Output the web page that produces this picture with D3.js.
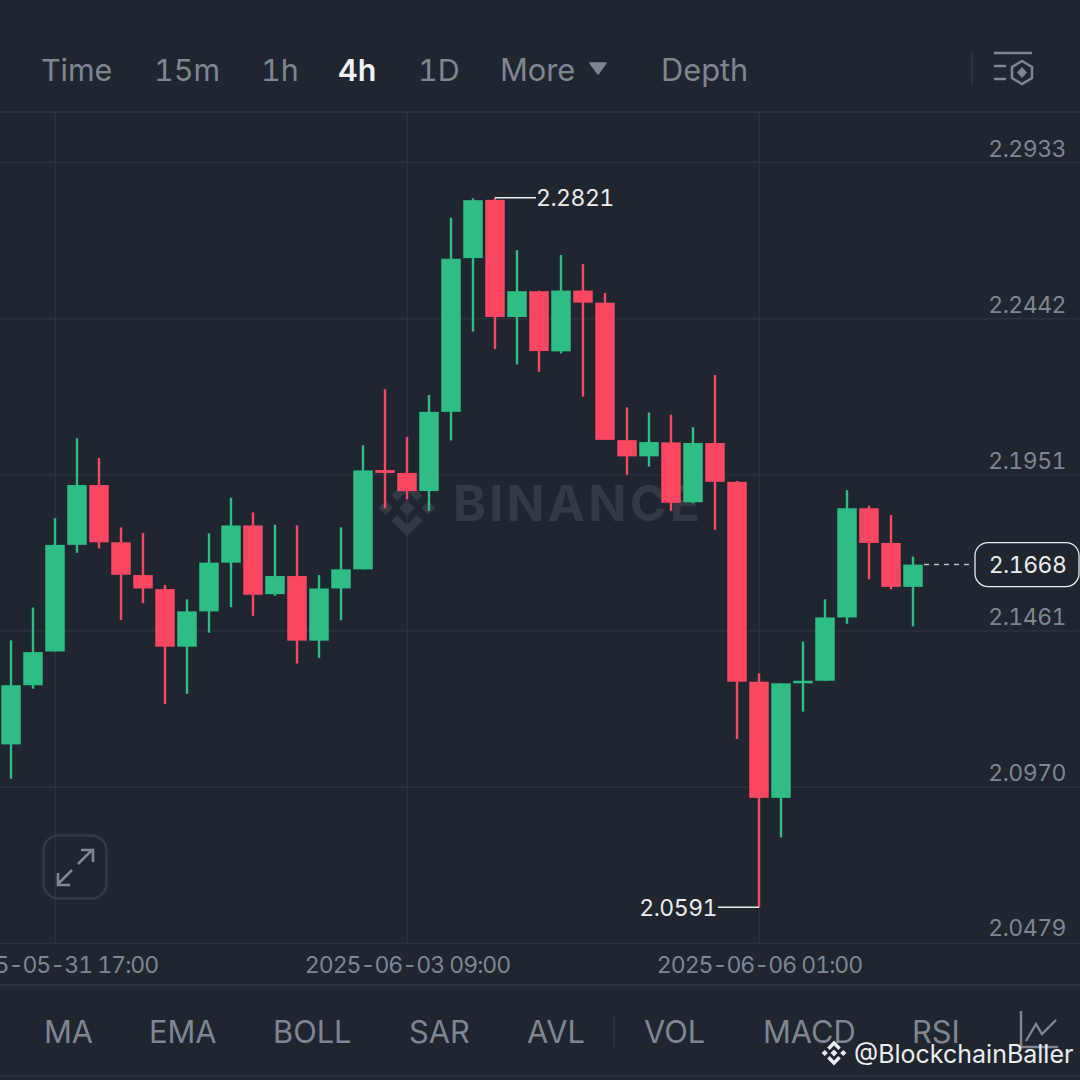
<!DOCTYPE html>
<html><head><meta charset="utf-8">
<script src="https://cdn.jsdelivr.net/npm/d3@7"></script>
<style>
html,body{margin:0;padding:0;background:#1f2630;}
svg{display:block;font-family:"Inter","Roboto",sans-serif;font-variant-numeric:tabular-nums;font-feature-settings:"tnum" 1;}
</style></head><body>
<svg id="c" width="1080" height="1080"></svg>
<script>
const firstCandle = "2025-05-31T09:00:00Z";
const opens  = [2.1103,2.1289,2.1395,2.1730,2.1918,2.1738,2.1635,2.1591,2.1410,2.1521,2.1674,2.1791,2.1575,2.1632,2.1429,2.1593,2.1653,2.1965,2.1956,2.1899,2.2148,2.2631,2.2814,2.2446,2.2527,2.2338,2.2529,2.2491,2.2059,2.2008,2.2052,2.1864,2.2050,2.1928,2.1300,2.0935,2.1295,2.1303,2.1502,2.1845,2.1736,2.1598];
const closes = [2.1289,2.1393,2.1730,2.1918,2.1738,2.1636,2.1593,2.1410,2.1521,2.1674,2.1791,2.1573,2.1632,2.1429,2.1593,2.1653,2.1964,2.1956,2.1899,2.2148,2.2629,2.2813,2.2446,2.2527,2.2339,2.2529,2.2491,2.2060,2.2008,2.2053,2.1862,2.2050,2.1928,2.1300,2.0935,2.1295,2.1303,2.1502,2.1845,2.1736,2.1598,2.1668];
const highs  = [2.1430,2.1533,2.1814,2.2065,2.2003,2.1785,2.1767,2.1604,2.1559,2.1766,2.1878,2.1832,2.1793,2.1791,2.1635,2.1785,2.2043,2.2219,2.2069,2.2201,2.2758,2.2819,2.2821,2.2656,2.2529,2.2641,2.2612,2.2521,2.2162,2.2146,2.2139,2.2100,2.2264,2.1931,2.1326,2.1295,2.1426,2.1559,2.1902,2.1853,2.1824,2.1693];
const lows   = [2.0995,2.1278,2.1395,2.1705,2.1719,2.1494,2.1547,2.1230,2.1262,2.1454,2.1534,2.1507,2.1570,2.1357,2.1375,2.1493,2.1653,2.1845,2.1873,2.1837,2.2058,2.2400,2.2345,2.2297,2.2274,2.2332,2.2196,2.2060,2.1950,2.1976,2.1837,2.1861,2.1777,2.1120,2.0591,2.0811,2.1206,2.1303,2.1482,2.1622,2.1590,2.1474];
const priceTicks = [2.2933,2.2442,2.1951,2.1461,2.0970,2.0479];
const timeTicks = ["2025-05-31T17:00:00Z","2025-06-03T09:00:00Z","2025-06-06T01:00:00Z"];
const intervals = ["Time","15m","1h","4h","1D"];
const indicators = ["MA","EMA","BOLL","SAR","AVL","VOL","MACD","RSI"];
const highLabel = 2.2821, lowLabel = 2.0591, lastPrice = 2.1668;

const GREEN="#2EBD85", RED="#FB4660", GRID="#2c323d", MUTED="#7e8691", WHITE="#eaecef";
const NUM=23, NUMLS=-0.5;
const svg=d3.select("#c");
svg.append("rect").attr("width",1080).attr("height",1080).attr("fill","#1f2630");

const t0=new Date(firstCandle);
const times=opens.map((_,i)=>d3.utcHour.offset(t0,4*i));
const x=d3.scaleTime().domain([times[0],times[times.length-1]]).range([11,913]);
const y=d3.scaleLinear().domain([2.0479,2.2933]).range([943,162]);
const fmt=d3.utcFormat("%Y-%m-%d %H:%M");

// frame lines
[[112,2],[985,2],[1076,2]].forEach(([yy,w])=>svg.append("line").attr("x1",0).attr("x2",1080).attr("y1",yy).attr("y2",yy).attr("stroke",GRID).attr("stroke-width",w));

// grid + price axis
const yAxis=d3.axisRight(y).tickValues(priceTicks).tickSize(1080).tickFormat(d3.format(".4f"));
const gy=svg.append("g").call(yAxis).attr("font-family",null).attr("font-size",null);
gy.select(".domain").remove();
gy.selectAll("line").attr("stroke",GRID).attr("stroke-width",1.5);
gy.selectAll("text").attr("x",1066).attr("text-anchor","end")
  .attr("fill",MUTED).attr("font-size",NUM).attr("letter-spacing",NUMLS).attr("dy",(d,i)=>i===priceTicks.length-1?-8:-6);

// time axis
const xAxis=d3.axisBottom(x).tickValues(timeTicks.map(d=>new Date(d))).tickSize(831).tickFormat(fmt);
const gx=svg.append("g").attr("transform","translate(0,112)").call(xAxis).attr("font-family",null).attr("font-size",null);
gx.select(".domain").remove();
gx.selectAll("line").attr("stroke",GRID).attr("stroke-width",1.5);
gx.selectAll("text").attr("y",861).attr("dy",0).attr("fill",MUTED).attr("font-size",NUM).attr("letter-spacing",-0.98);

// diamond logo
function logo(g,cx,cy,s,fill){
  const l=g.append("g").attr("transform",`translate(${cx},${cy}) scale(${s})`).attr("fill",fill);
  const p="M0,-10 L10,0 L0,10 L-10,0Z";
  l.append("path").attr("d",p).attr("transform","scale(.55)");
  l.append("path").attr("d",p).attr("transform","translate(-15,0) scale(.5)");
  l.append("path").attr("d",p).attr("transform","translate(15,0) scale(.5)");
  l.append("path").attr("d","M0,-20 L11,-9 L7,-5 L0,-12 L-7,-5 L-11,-9Z");
  l.append("path").attr("d","M0,20 L11,9 L7,5 L0,12 L-7,5 L-11,9Z");
}
// watermark
const WM="#333a46";
logo(svg,407,508,1.42,WM);
svg.append("text").attr("x",453).attr("y",521).attr("font-size",50).attr("font-weight",700)
  .attr("letter-spacing",3.2).attr("fill",WM).text("BINANCE");

// candles
const candles=opens.map((o,i)=>({t:times[i],o,c:closes[i],h:highs[i],l:lows[i]}));
const gc=svg.append("g");
const col=d=>d.c>=d.o?GREEN:RED;
gc.selectAll("line.w").data(candles).join("line").attr("class","w")
  .attr("x1",d=>x(d.t)).attr("x2",d=>x(d.t)).attr("y1",d=>y(d.h)).attr("y2",d=>y(d.l))
  .attr("stroke",col).attr("stroke-width",2.4);
gc.selectAll("rect.b").data(candles).join("rect").attr("class","b")
  .attr("x",d=>x(d.t)-9.75).attr("width",19.5)
  .attr("y",d=>y(Math.max(d.o,d.c)))
  .attr("height",d=>Math.max(2.5,Math.abs(y(d.o)-y(d.c))))
  .attr("fill",col);

// high / low labels
const hi=candles.find(d=>d.h===highLabel), lo=candles.find(d=>d.l===lowLabel);
svg.append("line").attr("x1",x(hi.t)).attr("x2",x(hi.t)+41).attr("y1",y(highLabel)).attr("y2",y(highLabel)).attr("stroke",WHITE).attr("stroke-width",1.5);
svg.append("text").attr("x",x(hi.t)+41).attr("y",y(highLabel)+8.5).attr("font-size",NUM).attr("letter-spacing",NUMLS).attr("fill",WHITE).text(highLabel.toFixed(4));
svg.append("line").attr("x1",x(lo.t)).attr("x2",x(lo.t)-41).attr("y1",y(lowLabel)).attr("y2",y(lowLabel)).attr("stroke",WHITE).attr("stroke-width",1.5);
svg.append("text").attr("x",x(lo.t)-42).attr("y",y(lowLabel)+8.5).attr("text-anchor","end").attr("font-size",NUM).attr("letter-spacing",NUMLS).attr("fill",WHITE).text(lowLabel.toFixed(4));

// last price
const ly=y(lastPrice);
svg.append("line").attr("x1",924).attr("x2",973).attr("y1",ly).attr("y2",ly).attr("stroke","#b9bdc3").attr("stroke-width",1.5).attr("stroke-dasharray","5 5");
svg.append("rect").attr("x",975).attr("y",ly-22).attr("width",104).attr("height",44).attr("rx",13).attr("fill","#1f2630").attr("stroke",WHITE).attr("stroke-width",1.3);
svg.append("text").attr("x",1027.5).attr("y",ly+8.5).attr("text-anchor","middle").attr("font-size",NUM).attr("letter-spacing",NUMLS).attr("fill",WHITE).text(lastPrice.toFixed(4));

// header tabs
const tabX=[41,154,261,338,418];
intervals.forEach((t,i)=>svg.append("text").attr("x",tabX[i]).attr("y",81).attr("font-size",30.4)
  .attr("fill",t==="4h"?"#f0f1f3":MUTED).attr("font-weight",t==="4h"?600:400).text(t));
svg.append("text").attr("x",500).attr("y",81).attr("font-size",30.8).attr("fill",MUTED).text("More");
svg.append("path").attr("d","M590,63 H606 L598,74Z").attr("fill",MUTED).attr("stroke",MUTED).attr("stroke-width",1.5).attr("stroke-linejoin","round");
svg.append("text").attr("x",661).attr("y",81).attr("font-size",30.8).attr("fill",MUTED).text("Depth");
svg.append("line").attr("x1",972).attr("x2",972).attr("y1",52).attr("y2",85).attr("stroke",GRID).attr("stroke-width",2);
const ic=svg.append("g").attr("stroke",MUTED).attr("stroke-width",2.5).attr("fill","none");
ic.append("line").attr("x1",994).attr("x2",1032).attr("y1",53).attr("y2",53);
ic.append("line").attr("x1",994).attr("x2",1006).attr("y1",66).attr("y2",66);
ic.append("line").attr("x1",994).attr("x2",1006).attr("y1",79).attr("y2",79);
ic.append("path").attr("d","M1022,61 L1032,67 V78 L1022,84 L1012,78 V67Z");
ic.append("path").attr("d","M1022,67 L1027,72.5 L1022,78 L1017,72.5Z").attr("fill",MUTED).attr("stroke","none");

// expand button
svg.append("rect").attr("x",43.5).attr("y",835.5).attr("width",63).attr("height",63).attr("rx",15).attr("fill","none").attr("stroke","#333945").attr("stroke-width",2.5);
const ex=svg.append("g").attr("stroke",MUTED).attr("stroke-width",2.6).attr("fill","none");
ex.append("path").attr("d","M78,864 L92,850 M81,850 H93 V862");
ex.append("path").attr("d","M72,870 L58,884 M58,873 V885 H70");

// indicator tabs
const indX=[44,149,273,409,527,644,763,912];
indicators.forEach((t,i)=>svg.append("text").attr("x",indX[i]).attr("y",1043).attr("font-size",30.8).attr("fill",MUTED).text(t));
svg.append("line").attr("x1",614).attr("x2",614).attr("y1",1015).attr("y2",1047).attr("stroke",GRID).attr("stroke-width",2);
const ib=svg.append("g").attr("stroke",MUTED).attr("stroke-width",2.4).attr("fill","none");
ib.append("path").attr("d","M1021,1011 V1047 H1058");
ib.append("path").attr("d","M1026,1041 L1036,1024 L1042,1034 L1056,1020");

// author mark
logo(svg,834,1053,.62,WHITE);
svg.append("text").attr("x",854).attr("y",1063).attr("font-size",25).attr("fill",WHITE).text("@BlockchainBaller");
</script>
</body></html>
